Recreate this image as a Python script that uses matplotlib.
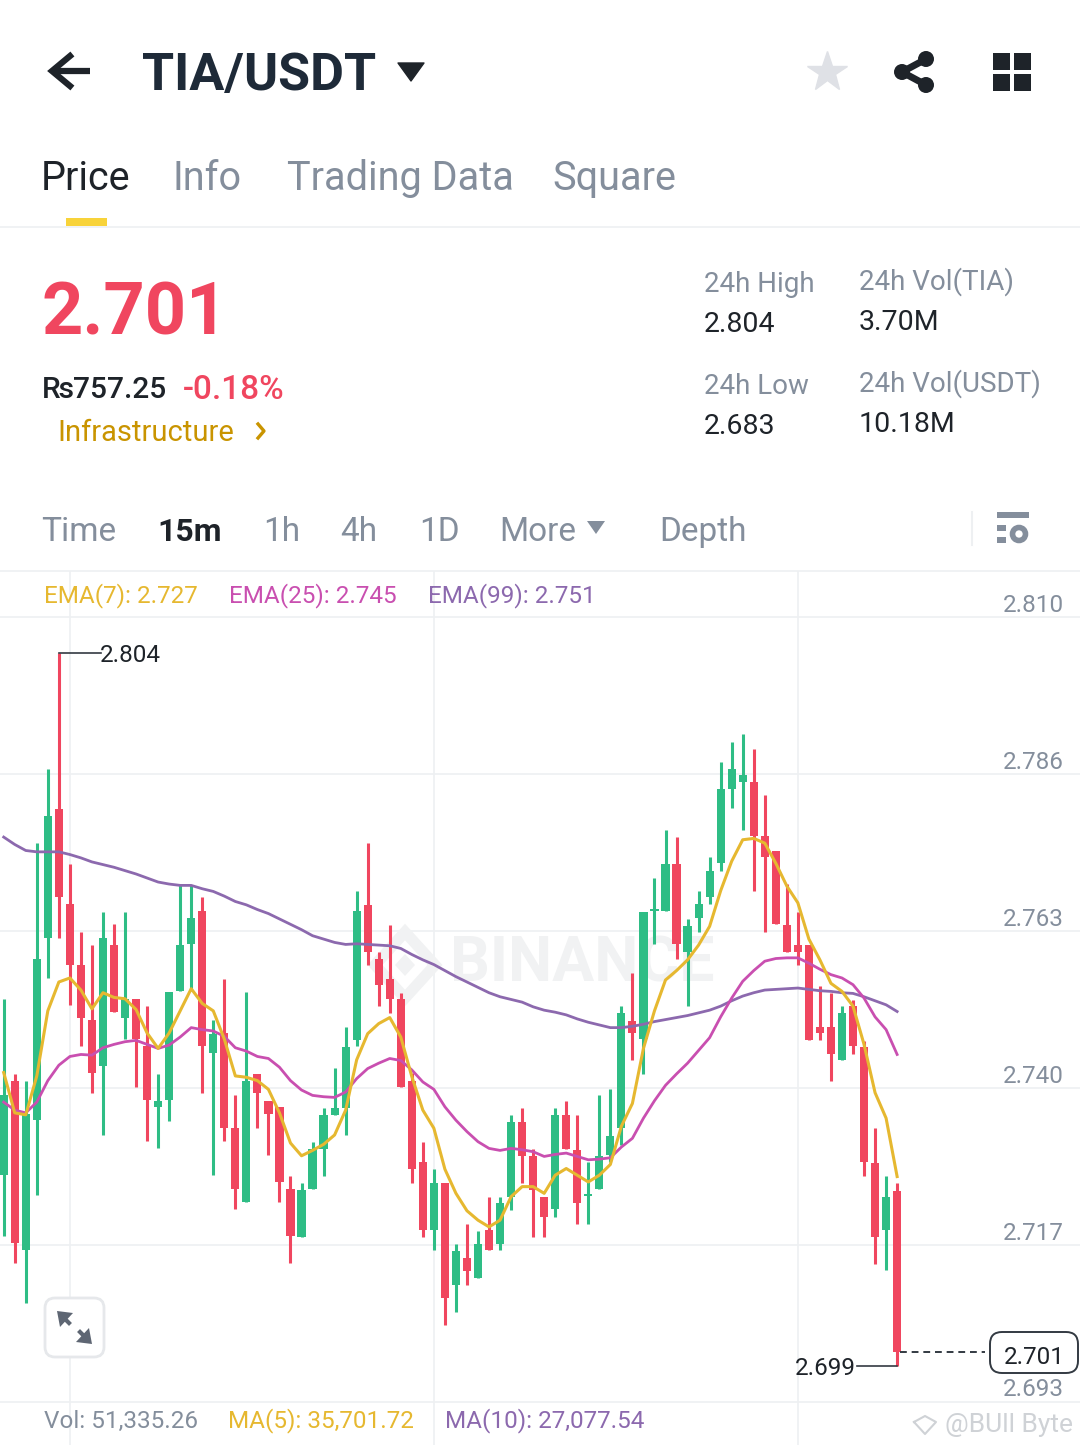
import matplotlib
matplotlib.use('Agg')
import matplotlib.pyplot as plt
from matplotlib.patches import FancyBboxPatch, Rectangle, Polygon, Circle
import numpy as np

# candles (price units)
highs = [2.7531, 2.7419, 2.7409, 2.7763, 2.7874, 2.8047, 2.7732, 2.7631, 2.7611, 2.7661,
         2.7642, 2.7661, 2.7531, 2.7520, 2.7419, 2.7541, 2.7700, 2.7700, 2.7682, 2.7500,
         2.7561, 2.7388, 2.7541, 2.7419, 2.7379, 2.7369, 2.7267, 2.7256, 2.7317, 2.7368,
         2.7428, 2.7489, 2.7692, 2.7763, 2.7600, 2.7641, 2.7540, 2.7420, 2.7317, 2.7277,
         2.7256, 2.7165, 2.7195, 2.7185, 2.7236, 2.7236, 2.7358, 2.7368, 2.7307, 2.7236,
         2.7368, 2.7378, 2.7358, 2.7287, 2.7387, 2.7397, 2.7520, 2.7570, 2.7661, 2.7711,
         2.7782, 2.7772, 2.7650, 2.7691, 2.7743, 2.7884, 2.7914, 2.7925, 2.7904, 2.7834,
         2.7752, 2.7702, 2.7661, 2.7611, 2.7550, 2.7540, 2.7520, 2.7529, 2.7468, 2.7338,
         2.7267, 2.7256]
lows = [2.7177, 2.7137, 2.7077, 2.7238, 2.7562, 2.7622, 2.7522, 2.7461, 2.7390, 2.7328,
        2.7511, 2.7471, 2.7400, 2.7319, 2.7309, 2.7349, 2.7542, 2.7542, 2.7390, 2.7268,
        2.7319, 2.7218, 2.7228, 2.7339, 2.7298, 2.7228, 2.7137, 2.7176, 2.7247, 2.7267,
        2.7358, 2.7328, 2.7460, 2.7581, 2.7520, 2.7510, 2.7399, 2.7257, 2.7176, 2.7156,
        2.7045, 2.7064, 2.7105, 2.7115, 2.7156, 2.7156, 2.7216, 2.7257, 2.7176, 2.7176,
        2.7206, 2.7307, 2.7196, 2.7196, 2.7247, 2.7288, 2.7313, 2.7439, 2.7419, 2.7612,
        2.7662, 2.7591, 2.7520, 2.7631, 2.7672, 2.7722, 2.7815, 2.7783, 2.7692, 2.7631,
        2.7642, 2.7601, 2.7581, 2.7470, 2.7470, 2.7409, 2.7439, 2.7449, 2.7267, 2.7136,
        2.7126, 2.6983]
body_tops = [2.7388, 2.7409, 2.7359, 2.7591, 2.7803, 2.7814, 2.7673, 2.7581, 2.7500, 2.7622,
             2.7611, 2.7531, 2.7530, 2.7460, 2.7379, 2.7541, 2.7611, 2.7652, 2.7662, 2.7479,
             2.7480, 2.7338, 2.7409, 2.7419, 2.7379, 2.7369, 2.7248, 2.7246, 2.7307, 2.7358,
             2.7368, 2.7459, 2.7662, 2.7671, 2.7591, 2.7560, 2.7530, 2.7408, 2.7287, 2.7256,
             2.7256, 2.7155, 2.7145, 2.7165, 2.7186, 2.7226, 2.7348, 2.7348, 2.7297, 2.7236,
             2.7358, 2.7358, 2.7306, 2.7239, 2.7296, 2.7327, 2.7510, 2.7498, 2.7661, 2.7665,
             2.7732, 2.7732, 2.7640, 2.7672, 2.7722, 2.7843, 2.7874, 2.7864, 2.7854, 2.7773,
             2.7752, 2.7641, 2.7611, 2.7611, 2.7489, 2.7489, 2.7510, 2.7520, 2.7459, 2.7286,
             2.7236, 2.7245]
body_bottoms = [2.7268, 2.7167, 2.7157, 2.7350, 2.7622, 2.7683, 2.7582, 2.7502, 2.7420, 2.7431,
                2.7511, 2.7502, 2.7471, 2.7380, 2.7370, 2.7380, 2.7542, 2.7613, 2.7460, 2.7450,
                2.7339, 2.7248, 2.7228, 2.7390, 2.7359, 2.7258, 2.7178, 2.7176, 2.7247, 2.7307,
                2.7358, 2.7368, 2.7470, 2.7601, 2.7551, 2.7530, 2.7399, 2.7277, 2.7186, 2.7186,
                2.7085, 2.7105, 2.7125, 2.7115, 2.7156, 2.7165, 2.7236, 2.7297, 2.7246, 2.7206,
                2.7217, 2.7307, 2.7227, 2.7237, 2.7247, 2.7298, 2.7339, 2.7480, 2.7471, 2.7662,
                2.7662, 2.7612, 2.7601, 2.7652, 2.7682, 2.7733, 2.7844, 2.7854, 2.7773, 2.7743,
                2.7642, 2.7601, 2.7601, 2.7470, 2.7480, 2.7449, 2.7439, 2.7460, 2.7288, 2.7176,
                2.7186, 2.7004]
is_up = [1, 0, 1, 1, 1, 0, 0, 0, 0, 1, 0, 1, 0, 0, 1, 1, 1, 1, 0, 1,
         0, 0, 1, 0, 0, 0, 0, 1, 1, 1, 1, 1, 1, 0, 0, 0, 0, 0, 0, 1,
         0, 1, 0, 1, 0, 1, 1, 0, 0, 0, 1, 0, 0, 1, 1, 1, 1, 0, 1, 1,
         1, 0, 1, 1, 1, 1, 1, 1, 0, 0, 0, 0, 0, 0, 0, 0, 1, 0, 0, 0,
         1, 0]

ema7 = [2.7421, 2.7361, 2.7358, 2.7416, 2.7513, 2.7556, 2.7562, 2.7544, 2.7516, 2.7540,
        2.7533, 2.7531, 2.7515, 2.7480, 2.7457, 2.7480, 2.7513, 2.7546, 2.7524, 2.7513,
        2.7471, 2.7416, 2.7414, 2.7409, 2.7396, 2.7361, 2.7316, 2.7297, 2.7305, 2.7314,
        2.7328, 2.7365, 2.7440, 2.7479, 2.7494, 2.7503, 2.7474, 2.7415, 2.7365, 2.7338,
        2.7277, 2.7241, 2.7215, 2.7201, 2.7191, 2.7201, 2.7236, 2.7251, 2.7251, 2.7241,
        2.7268, 2.7278, 2.7268, 2.7258, 2.7268, 2.7284, 2.7341, 2.7375, 2.7457, 2.7513,
        2.7559, 2.7573, 2.7589, 2.7611, 2.7639, 2.7692, 2.7736, 2.7768, 2.7770, 2.7763,
        2.7733, 2.7699, 2.7674, 2.7620, 2.7589, 2.7554, 2.7542, 2.7520, 2.7463, 2.7391,
        2.7353, 2.7266]
ema25 = [2.7377, 2.7365, 2.7361, 2.7377, 2.7409, 2.7432, 2.7445, 2.7448, 2.7447, 2.7458,
         2.7463, 2.7467, 2.7469, 2.7463, 2.7457, 2.7462, 2.7474, 2.7488, 2.7485, 2.7483,
         2.7475, 2.7458, 2.7453, 2.7445, 2.7442, 2.7429, 2.7409, 2.7395, 2.7387, 2.7385,
         2.7384, 2.7392, 2.7412, 2.7427, 2.7435, 2.7442, 2.7439, 2.7425, 2.7407, 2.7396,
         2.7370, 2.7350, 2.7333, 2.7318, 2.7308, 2.7305, 2.7308, 2.7306, 2.7303, 2.7296,
         2.7299, 2.7301, 2.7296, 2.7291, 2.7292, 2.7294, 2.7310, 2.7323, 2.7353, 2.7379,
         2.7402, 2.7419, 2.7435, 2.7454, 2.7473, 2.7504, 2.7532, 2.7557, 2.7573, 2.7587,
         2.7591, 2.7592, 2.7592, 2.7584, 2.7575, 2.7567, 2.7562, 2.7552, 2.7532, 2.7504,
         2.7485, 2.7448]
ema99 = [2.7772, 2.7761, 2.7752, 2.7750, 2.7750, 2.7750, 2.7746, 2.7741, 2.7735, 2.7731,
         2.7727, 2.7722, 2.7717, 2.7711, 2.7705, 2.7702, 2.7700, 2.7700, 2.7695, 2.7691,
         2.7684, 2.7676, 2.7671, 2.7664, 2.7658, 2.7650, 2.7642, 2.7634, 2.7625, 2.7620,
         2.7615, 2.7612, 2.7613, 2.7612, 2.7611, 2.7610, 2.7606, 2.7597, 2.7589, 2.7582,
         2.7573, 2.7564, 2.7556, 2.7548, 2.7540, 2.7534, 2.7530, 2.7526, 2.7519, 2.7514,
         2.7511, 2.7507, 2.7501, 2.7496, 2.7492, 2.7488, 2.7488, 2.7490, 2.7493, 2.7497,
         2.7500, 2.7503, 2.7506, 2.7510, 2.7514, 2.7520, 2.7528, 2.7535, 2.7540, 2.7544,
         2.7545, 2.7546, 2.7547, 2.7545, 2.7543, 2.7542, 2.7540, 2.7539, 2.7534, 2.7528,
         2.7522, 2.7512]

grid_prices = [2.8100, 2.7866, 2.7632, 2.7398, 2.7164, 2.6930]
grid_labels = ['2.810', '2.786', '2.763', '2.740', '2.717', '2.693']
grid_candles = [6, 39, 72]

tabs = ['Price', 'Info', 'Trading Data', 'Square']
intervals = ['Time', '15m', '1h', '4h', '1D', 'More', 'Depth']

GREEN = '#2EBD85'
RED = '#F0465F'
DARK = '#1E2329'
GRAY = '#848E9C'
GRID = '#EEF0F2'
YELLOW = '#E6B830'
PINK = '#C94FB0'
PURPLE = '#8C69AE'

plt.rcParams['font.family'] = ['Roboto', 'DejaVu Sans']

fig = plt.figure(figsize=(10.8, 14.45), dpi=100)

# chart area runs from y=571 to the bottom edge of the picture
ax = fig.add_axes([0, 0, 1, (1445 - 571) / 1445])
px_per_candle = 11.03
ax.set_xlim(-3.7 / px_per_candle, (1080 - 3.7) / px_per_candle)
ax.set_ylim(2.68659, 2.81686)
for side in ax.spines:
    ax.spines[side].set_visible(False)
ax.tick_params(left=False, bottom=False, labelleft=False, labelbottom=False)
ax.set_yticks(grid_prices)
ax.set_xticks(grid_candles)
ax.grid(True, color=GRID, lw=1.2, zorder=0)
ax.set_axisbelow(True)

# overlay in pixel coordinates for the app chrome
ui = fig.add_axes([0, 0, 1, 1], zorder=5)
ui.set_xlim(0, 1080)
ui.set_ylim(1445, 0)
ui.axis('off')
ui.patch.set_alpha(0)

# watermark sits under the candles
ax.text(450, 965, 'BINANCE', transform=ui.transData, fontsize=45, weight='bold',
        color='#F1F2F3', va='center', zorder=1)
ax.add_patch(Polygon([(375, 965), (405, 932), (435, 965), (405, 998)], closed=True,
                     transform=ui.transData, fc='none', ec='#F1F2F3', lw=8, zorder=1))
ax.add_patch(Polygon([(395, 965), (405, 954), (415, 965), (405, 976)], closed=True,
                     transform=ui.transData, fc='#F1F2F3', ec='none', zorder=1))

x = np.arange(len(highs))
colors = [GREEN if up else RED for up in is_up]
ax.vlines(x, lows, highs, colors=colors, lw=2.2, zorder=2)
heights = np.maximum(np.array(body_tops) - np.array(body_bottoms), 0.0003)
ax.bar(x, heights, bottom=body_bottoms, width=0.74, color=colors, zorder=3)

ax.plot(x, ema99, color=PURPLE, lw=2, zorder=4)
ax.plot(x, ema25, color=PINK, lw=2, zorder=4)
ax.plot(x, ema7, color=YELLOW, lw=2.2, zorder=4)

# high / low / last markers
hi = int(np.argmax(highs))
lo = int(np.argmin(lows))
ax.plot([hi, hi + 3.8], [highs[hi], highs[hi]], color='#333A42', lw=1.2, zorder=5)
ax.annotate('2.804', (hi + 3.75, highs[hi]), xytext=(0, -3), textcoords='offset pixels',
            fontsize=17.5, color=DARK, va='center', zorder=6)
ax.plot([lo - 3.6, lo], [lows[lo], lows[lo]], color='#333A42', lw=1.2, zorder=5)
ax.annotate('2.699', (lo - 3.7, lows[lo]), xytext=(0, -2), textcoords='offset pixels',
            fontsize=17.5, color=DARK, va='center', ha='right', zorder=6)
ax.plot([lo + 0.3, lo + 8], [body_bottoms[lo], body_bottoms[lo]], color='#333A42', lw=1.4,
        ls=(0, (3.5, 2.5)), zorder=5)

for price, label in zip(grid_prices, grid_labels):
    off = 12 if label != '2.693' else 12
    ax.annotate(label, (1064, price), xycoords=('figure pixels', 'data'), xytext=(0, off),
                textcoords='offset pixels', ha='right', va='center', fontsize=17.5, color=GRAY, zorder=6)

# header
ui.plot([52, 90], [71, 71], color=DARK, lw=4.5, solid_capstyle='butt')
ui.plot([70, 52, 70], [56, 71, 86], color=DARK, lw=4.5, solid_joinstyle='miter')
ui.text(142, 76, 'TIA/USDT', fontsize=37.5, weight='bold', color='#1E2A38', va='center')
ui.add_patch(Polygon([(398, 63), (424, 63), (411, 81)], closed=True, fc=DARK, ec=DARK, lw=1, joinstyle='round'))
ui.plot([827], [72], marker='*', ms=30, color='#DFE1E6', mec='#DFE1E6')
ui.plot([928, 902, 928], [58, 72, 86], color=DARK, lw=5)
for cx, cy, r in [(902, 72, 8), (926, 59, 8), (926, 85, 8)]:
    ui.add_patch(Circle((cx, cy), r, fc=DARK, ec='none'))
for rx, ry in [(993, 53), (1014, 53), (993, 74), (1014, 74)]:
    ui.add_patch(Rectangle((rx, ry), 17, 17, fc=DARK, ec='none'))

# tabs
for label, tx, col in zip(tabs, [41, 173, 287, 552], [DARK, GRAY, GRAY, GRAY]):
    ui.text(tx, 179, label, fontsize=28.5, color=col, va='center')
ui.add_patch(Rectangle((66, 218), 41, 8, fc='#F8D33A', ec='none'))
ui.plot([0, 1080], [226.5, 226.5], color=GRID, lw=1.2)

# price block
ui.text(42, 315, '2.701', fontsize=52, weight='bold', color=RED, va='center')
ui.text(42, 390, '\u20a8757.25', fontsize=21.5, weight='medium', color=DARK, va='center')
ui.text(183, 390, '-0.18%', fontsize=24, weight='medium', color=RED, va='center')
ui.text(57, 433, 'Infrastructure', fontsize=21, color='#C99400', va='center')
ui.plot([258, 264, 258], [424, 431, 438], color='#C99400', lw=2.4)

ui.text(704, 285, '24h High', fontsize=20, color=GRAY, va='center')
ui.text(704, 325, '2.804', fontsize=20.5, color=DARK, va='center')
ui.text(704, 387, '24h Low', fontsize=20, color=GRAY, va='center')
ui.text(704, 427, '2.683', fontsize=20.5, color=DARK, va='center')
ui.text(859, 282, '24h Vol(TIA)', fontsize=20, color=GRAY, va='center')
ui.text(859, 322, '3.70M', fontsize=20.5, color=DARK, va='center')
ui.text(859, 384, '24h Vol(USDT)', fontsize=20, color=GRAY, va='center')
ui.text(859, 424, '10.18M', fontsize=20.5, color=DARK, va='center')

# interval bar
for label, tx in zip(intervals, [41, 157, 263, 340, 419, 499, 659]):
    if label == '15m':
        ui.text(tx, 532, label, fontsize=23, weight='bold', color=DARK, va='center')
    else:
        ui.text(tx, 532, label, fontsize=24, color=GRAY, va='center')
ui.add_patch(Polygon([(587, 521), (605, 521), (596, 534)], closed=True, fc=GRAY, ec='none'))
ui.plot([972, 972], [512, 545], color=GRID, lw=1.5)
ui.add_patch(Rectangle((997, 512), 32, 6, fc=GRAY, ec='none'))
ui.add_patch(Rectangle((997, 525), 9, 6, fc=GRAY, ec='none'))
ui.add_patch(Rectangle((997, 537), 9, 6, fc=GRAY, ec='none'))
ui.add_patch(Circle((1019, 534), 6.5, fc='white', ec=GRAY, lw=4))
ui.plot([0, 1080], [571, 571], color=GRID, lw=1.2)

# legends
ui.text(44, 596, 'EMA(7): 2.727', fontsize=17.5, color=YELLOW, va='center')
ui.text(229, 596, 'EMA(25): 2.745', fontsize=17.5, color=PINK, va='center')
ui.text(428, 596, 'EMA(99): 2.751', fontsize=17.5, color=PURPLE, va='center')
ui.text(44, 1421, 'Vol: 51,335.26', fontsize=17.5, color=GRAY, va='center')
ui.text(228, 1421, 'MA(5): 35,701.72', fontsize=17.5, color=YELLOW, va='center')
ui.text(445, 1421, 'MA(10): 27,077.54', fontsize=17.5, color=PURPLE, va='center')

# last price box
ui.add_patch(FancyBboxPatch((998, 1340), 72, 25, boxstyle='round,pad=8,rounding_size=12',
                            fc='white', ec='#333A42', lw=1.4))
ui.text(1034, 1358, '2.701', fontsize=17.5, color=DARK, ha='center', va='center')

# fullscreen button
ui.add_patch(FancyBboxPatch((53, 1306), 43, 43, boxstyle='round,pad=8,rounding_size=10',
                            fc='white', ec='#E6E8EB', lw=2))
ui.plot([62, 69], [1316, 1323], color='#5E6673', lw=3)
ui.plot([80, 87], [1332, 1339], color='#5E6673', lw=3)
ui.add_patch(Polygon([(57, 1311), (73, 1313), (60, 1327)], closed=True, fc='#5E6673', ec='none'))
ui.add_patch(Polygon([(92, 1344), (76, 1342), (89, 1328)], closed=True, fc='#5E6673', ec='none'))

# corner watermark
ui.text(945, 1425, '@BUll Byte', fontsize=19, color='#CFD2D6', va='center')
ui.plot([914, 925, 936, 925, 914], [1422, 1416, 1422, 1434, 1422], color='#CFD2D6', lw=1.5)

fig.savefig('out.png', dpi=100, facecolor='white')
